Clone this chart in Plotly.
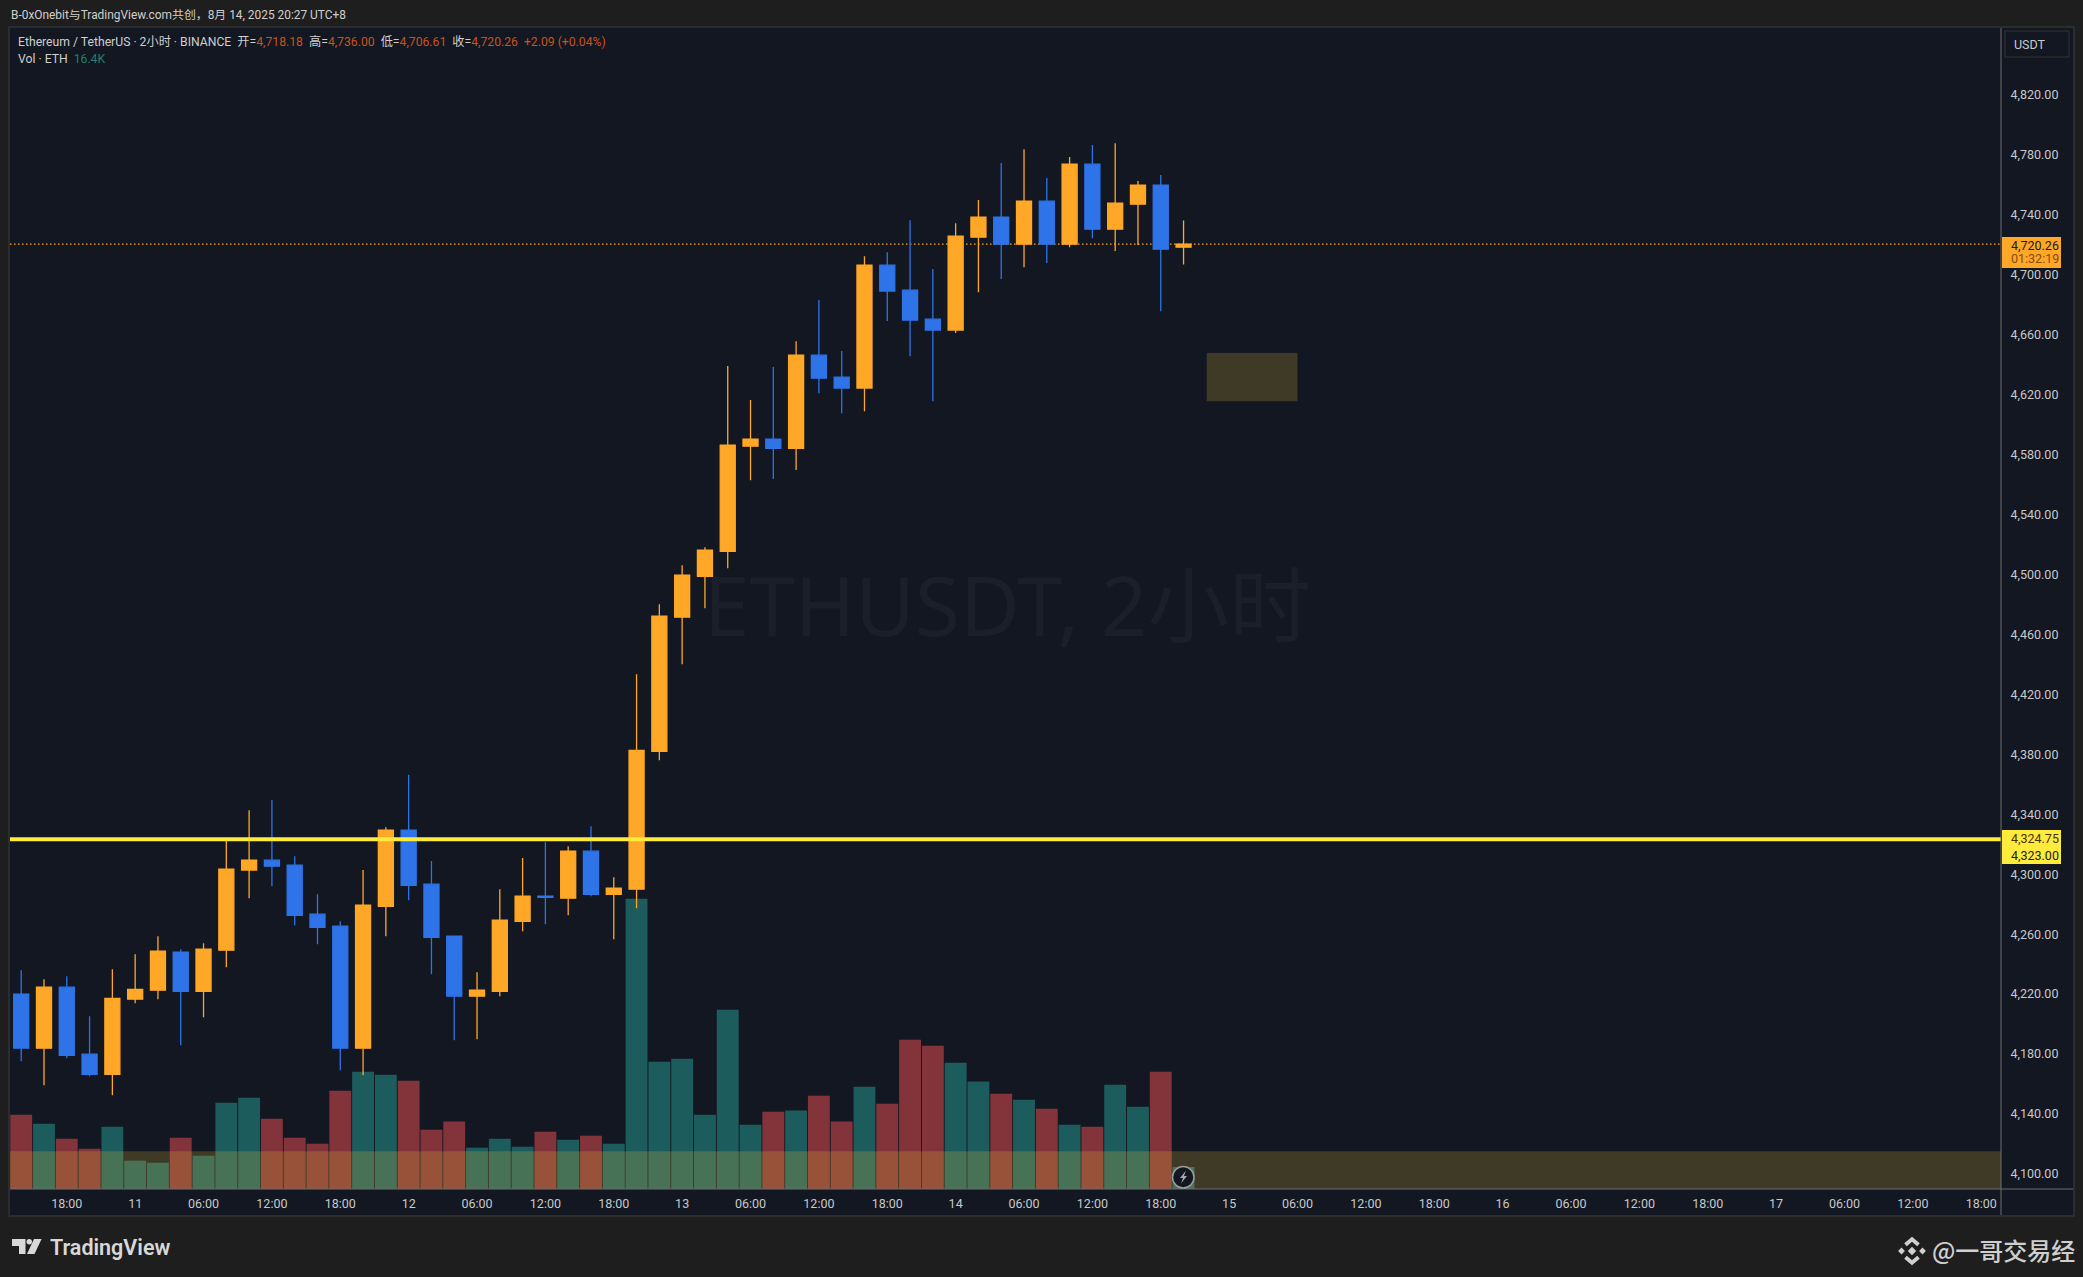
import plotly.graph_objects as go

W, H = 2083, 1277
PL, PR, PT, PB = 10, 2001, 28, 1189

times = (
    ["2025-08-10 %02d:00" % h for h in (14, 16, 18, 20, 22)]
    + ["2025-08-%02d %02d:00" % (d, h) for d in (11, 12, 13) for h in range(0, 24, 2)]
    + ["2025-08-14 %02d:00" % h for h in range(0, 22, 2)]
)
opens = [4219.9, 4183.9, 4224.6, 4179.9, 4166.5, 4216.6, 4222.6, 4247.9, 4221.9, 4249.3, 4302.7, 4309.3, 4306.0,
         4273.3, 4265.3, 4183.9, 4278.6, 4329.3, 4293.3, 4258.6, 4218.6, 4221.9, 4268.6, 4285.3, 4284.0, 4315.3,
         4286.6, 4290.0, 4382.0, 4471.4, 4498.7, 4515.4, 4585.5, 4590.1, 4584.1, 4646.2, 4631.5, 4624.2, 4706.2,
         4689.5, 4670.2, 4662.9, 4724.9, 4738.3, 4720.2, 4748.9, 4720.2, 4773.6, 4730.2, 4746.9, 4759.6, 4718.18]
highs = [4235.9, 4229.9, 4231.9, 4205.2, 4236.6, 4246.6, 4258.6, 4249.9, 4253.9, 4322.7, 4342.7, 4349.4, 4312.0,
         4286.6, 4268.6, 4302.7, 4331.3, 4366.3, 4308.7, 4258.6, 4234.6, 4290.0, 4310.7, 4321.3, 4318.7, 4332.0,
         4298.0, 4433.4, 4480.1, 4506.1, 4518.1, 4638.9, 4616.2, 4638.2, 4655.5, 4683.0, 4648.9, 4712.2, 4714.9,
         4736.2, 4703.6, 4734.2, 4749.6, 4774.3, 4783.6, 4764.3, 4778.3, 4786.3, 4787.6, 4762.3, 4766.3, 4736.00]
lows = [4175.2, 4159.2, 4177.2, 4165.2, 4152.5, 4213.9, 4216.6, 4185.9, 4204.6, 4237.9, 4284.0, 4292.0, 4265.9,
        4253.3, 4169.2, 4165.9, 4258.6, 4282.6, 4233.3, 4189.2, 4189.9, 4218.6, 4261.9, 4266.6, 4272.6, 4285.3,
        4256.6, 4277.3, 4376.0, 4440.0, 4477.4, 4504.1, 4562.8, 4563.5, 4569.5, 4620.8, 4607.5, 4608.8, 4668.9,
        4645.5, 4615.5, 4660.9, 4688.2, 4696.9, 4704.9, 4707.6, 4718.2, 4724.2, 4715.6, 4719.6, 4675.5, 4706.61]
closes = [4183.9, 4224.6, 4179.2, 4166.5, 4217.2, 4223.2, 4248.6, 4221.9, 4249.9, 4303.3, 4309.3, 4305.3, 4272.6,
          4264.6, 4183.9, 4279.3, 4329.3, 4292.6, 4257.9, 4218.6, 4222.6, 4269.3, 4285.3, 4284.6, 4315.3, 4286.6,
          4290.6, 4382.6, 4472.1, 4499.4, 4516.1, 4586.1, 4590.1, 4584.1, 4646.2, 4630.8, 4624.2, 4706.2, 4688.9,
          4669.5, 4662.9, 4725.6, 4738.3, 4720.2, 4748.9, 4720.2, 4773.6, 4730.2, 4747.6, 4759.6, 4716.9, 4720.26]
volumes = [55.4, 48.7, 37.5, 30.0, 46.4, 21.1, 19.6, 38.2, 24.8, 64.3, 68.0, 52.4, 38.2, 33.8, 73.2, 87.4, 85.2,
           80.7, 44.2, 50.2, 30.8, 37.5, 31.5, 42.7, 36.7, 39.7, 33.8, 216.3, 94.9, 97.1, 55.4, 133.6, 47.9, 57.6,
           58.4, 69.5, 50.2, 76.2, 63.6, 111.2, 106.8, 94.1, 80.0, 71.0, 66.5, 59.8, 47.9, 46.4, 77.7, 61.3, 87.4, 16.4]

price_ticks = list(range(4100, 4821, 40))
x_tick_times = ["2025-08-10 18:00"] + ["2025-08-%02d %s:00" % (d, h) for d in range(11, 17) for h in ("00", "06", "12", "18")] \
    + ["2025-08-17 00:00", "2025-08-17 06:00", "2025-08-17 12:00", "2025-08-17 18:00"]
x_tick_labels = ["18:00"] + [lab for d in range(11, 17) for lab in (str(d), "06:00", "12:00", "18:00")] \
    + ["17", "06:00", "12:00", "18:00"]

support_level = 4323.3
last_price = 4720.26
zone_small = (("2025-08-14 22:02", "2025-08-15 06:00"), (4615.5, 4647.6))
zone_long_top = 4115.2
x_range = ["2025-08-10 13:01", "2025-08-17 19:44"]
price_range = [4090.0, 4864.4]
volume_range = [0, 865]

BG, PAPER = "#121722", "#1e1e1e"
ORANGE, BLUE, TEAL, RED = "#ffa726", "#2e73e8", "#1d5c5c", "#82343a"
ZONE = "rgba(255,215,59,0.19)"
TEXT = "#c9c9c9"
FONT = "Roboto, 'Noto Sans CJK SC', sans-serif"


def px(x):
    return x / W


def py(y):
    return 1 - y / H


def poly(points, close=True):
    s = "M " + " L ".join("%.6f,%.6f" % (px(a), py(b)) for a, b in points)
    return s + (" Z" if close else "")


fig = go.Figure()
fig.add_trace(go.Bar(
    x=times, y=volumes, yaxis="y", xaxis="x", width=2 * 3600 * 1000 * 0.96,
    marker=dict(color=[TEAL if c >= o else RED for o, c in zip(opens, closes)], line_width=0),
    hoverinfo="skip", showlegend=False))
fig.add_trace(go.Candlestick(
    x=times, open=opens, high=highs, low=lows, close=closes, yaxis="y2", xaxis="x",
    increasing=dict(line=dict(color=ORANGE, width=1.3), fillcolor=ORANGE),
    decreasing=dict(line=dict(color=BLUE, width=1.3), fillcolor=BLUE),
    whiskerwidth=0, showlegend=False, hoverinfo="skip"))

shapes = [
    # frame
    dict(type="rect", xref="paper", yref="paper", layer="below", x0=px(9), x1=px(2074), y0=py(27), y1=py(1216),
         fillcolor=BG, line=dict(color="#2b2c2e", width=2)),
    # current price line
    dict(type="line", xref="paper", yref="y2", layer="below", x0=px(PL), x1=px(PR), y0=last_price, y1=last_price,
         line=dict(color=ORANGE, width=1.4, dash="1.5px,2.5px")),
    # zones
    dict(type="rect", xref="x", yref="y2", layer="above", x0=zone_small[0][0], x1=zone_small[0][1],
         y0=zone_small[1][0], y1=zone_small[1][1], fillcolor=ZONE, line_width=0),
    dict(type="rect", xref="paper", yref="y2", layer="above", x0=px(PL), x1=px(PR), y0=price_range[0], y1=zone_long_top,
         fillcolor=ZONE, line_width=0),
    # support
    dict(type="line", xref="paper", yref="y2", layer="above", x0=px(PL), x1=px(PR), y0=support_level, y1=support_level,
         line=dict(color="#ffeb3b", width=4)),
    # axis lines
    dict(type="line", xref="paper", yref="paper", x0=px(PR), x1=px(PR), y0=py(PT), y1=py(1215),
         line=dict(color="#6e6f72", width=1)),
    dict(type="line", xref="paper", yref="paper", x0=px(PL), x1=px(2073), y0=py(PB), y1=py(PB),
         line=dict(color="#6e6f72", width=1)),
    # USDT box
    dict(type="rect", xref="paper", yref="paper", x0=px(2005), x1=px(2069), y0=py(31), y1=py(57),
         line=dict(color="#34352f", width=1), fillcolor=BG),
    # tags
    dict(type="rect", xref="paper", yref="paper", x0=px(2002), x1=px(2061), y0=py(237), y1=py(268),
         fillcolor=ORANGE, line_width=0),
    dict(type="rect", xref="paper", yref="paper", x0=px(2002), x1=px(2061), y0=py(830), y1=py(864),
         fillcolor="#ffeb3b", line_width=0),
    # lightning icon
    dict(type="circle", xref="paper", yref="paper", x0=px(1172.5), x1=px(1194), y0=py(1166.5), y1=py(1188),
         fillcolor=BG, line=dict(color="#9a9a9a", width=1.5)),
    dict(type="path", xref="paper", yref="paper", fillcolor="#a8a8a8", line_width=0,
         path=poly([(1186, 1170.5), (1180, 1178), (1183, 1178), (1181, 1183.5), (1187, 1176), (1184, 1176)])),
    # TradingView logo
    dict(type="path", xref="paper", yref="paper", fillcolor="#d8d8d8", line_width=0,
         path=poly([(12, 1239), (25.5, 1239), (25.5, 1254), (19, 1254), (19, 1246), (12, 1246)])),
    dict(type="circle", xref="paper", yref="paper", fillcolor="#d8d8d8", line_width=0,
         x0=px(26.5), x1=px(32), y0=py(1239), y1=py(1244.5)),
    dict(type="path", xref="paper", yref="paper", fillcolor="#d8d8d8", line_width=0,
         path=poly([(34, 1239), (41.6, 1239), (34.5, 1254), (27, 1254)])),
]
# Binance-like diamond mark
cx, cy = 1912, 1251
for dx, r in ((0, 4.2), (-10.5, 3.4), (10.5, 3.4)):
    shapes.append(dict(type="path", xref="paper", yref="paper", fillcolor="#d0d0d0", line_width=0,
                       path=poly([(cx + dx, cy - r), (cx + dx + r, cy), (cx + dx, cy + r), (cx + dx - r, cy)])))
for s in (-1, 1):
    shapes.append(dict(type="path", xref="paper", yref="paper", line=dict(color="#d0d0d0", width=3.8),
                       path=poly([(cx - 6.5, cy + s * 6.2), (cx, cy + s * 11.8), (cx + 6.5, cy + s * 6.2)], close=False)))


def note(x, y, text, size=12, color=TEXT, anchor="left", **font):
    return dict(xref="paper", yref="paper", x=px(x), y=py(y), text=text, showarrow=False, xanchor=anchor,
                yanchor="middle", align="left", font=dict(family=font.get("family", FONT), size=size, color=color,
                                                          weight=font.get("weight", 400)))


VAL = "#c8531c"
v = lambda s: '<span style="color:%s">%s</span>' % (VAL, s)
legend = ("Ethereum / TetherUS · 2小时 · BINANCE  开=" + v("4,718.18") + "  高=" + v("4,736.00") + "  低=" + v("4,706.61")
          + "  收=" + v("4,720.26") + "  " + v("+2.09 (+0.04%)"))
annotations = [
    note(8.7, 15, "B-0xOnebit与TradingView.com共创，8月 14, 2025 20:27 UTC+8", 11.9, "#cfcfcf"),
    note(16, 42, legend, 12.2, "#cfcfcf"),
    note(16, 59, 'Vol · ETH  <span style="color:#2a7d6c">16.4K</span>', 12.2, "#cfcfcf"),
    note(1007, 604, "ETHUSDT, 2小时", 81.7, "#1a1f2a", anchor="center", family="'Noto Sans', 'Noto Sans CJK SC'"),
    note(2012, 44.5, "USDT", 12.5, "#c9c9c9"),
    note(2008.5, 245.5, "4,720.26", 12.5, "#1b1b1b"),
    note(2008.5, 258.5, "01:32:19", 12.5, "#8a4a14"),
    note(2008.5, 838, "4,324.75", 12.5, "#4a3208"),
    note(2008.5, 855, "4,323.00", 12.5, "#1b1b1b"),
    note(48, 1247, "TradingView", 21.5, "#d8d8d8", weight=600),
    note(1930, 1249, "@一哥交易经", 24, "#cfcfcf", family="'Noto Sans CJK SC'", weight=500),
]

fig.update_layout(
    width=W, height=H, autosize=False, margin=dict(l=0, r=0, t=0, b=0), paper_bgcolor=PAPER,
    plot_bgcolor="rgba(0,0,0,0)", boxgap=0.34, boxgroupgap=0, barmode="overlay", showlegend=False,
    hovermode=False, shapes=shapes, annotations=annotations, font=dict(family=FONT),
    xaxis=dict(type="date", domain=[px(PL), px(PR)], range=x_range, tickmode="array", tickvals=x_tick_times,
               ticktext=x_tick_labels, showgrid=False, zeroline=False, showline=False, ticks="outside", ticklen=3,
               tickcolor="rgba(0,0,0,0)", tickfont=dict(size=12.5, color=TEXT), rangeslider=dict(visible=False),
               anchor="y", tickangle=0),
    yaxis=dict(domain=[py(PB), py(PT)], range=volume_range, visible=False, fixedrange=True),
    yaxis2=dict(domain=[py(PB), py(PT)], range=price_range, overlaying="y", side="right", anchor="x",
                tickmode="array", tickvals=price_ticks, tickformat=",.2f", showgrid=False, zeroline=False,
                showline=False, ticks="outside", ticklen=6, tickcolor="rgba(0,0,0,0)",
                tickfont=dict(size=12.5, color=TEXT)),
)

fig.write_html("out.html", config=dict(displayModeBar=False),
               post_script="document.body.style.margin='0';document.body.style.overflow='hidden';")
